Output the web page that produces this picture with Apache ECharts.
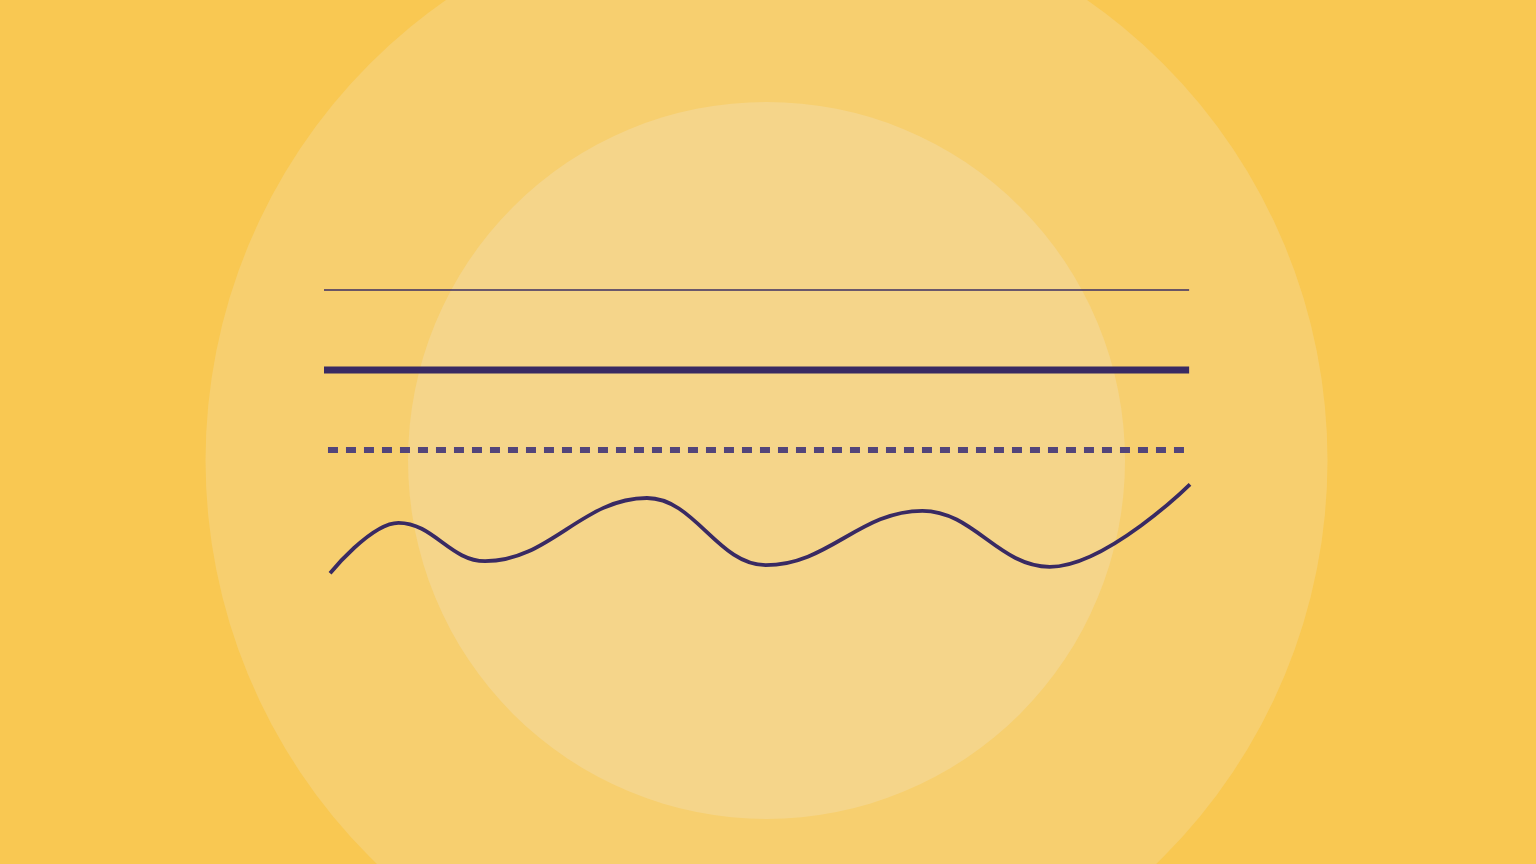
<!DOCTYPE html>
<html>
<head>
<meta charset="utf-8">
<script src="https://cdn.jsdelivr.net/npm/echarts@6/dist/echarts.min.js"></script>
<style>
    html, body { margin: 0; padding: 0; background: #f9c852; }
    #main { width: 1536px; height: 864px; }
</style>
</head>
<body>
<div id="main"></div>
<script>
    /* 数据 */
    const thinLine = [[0, 4], [99.9, 4]];
    const thickLine = [[0, 3], [99.9, 3]];
    const dashedLine = [[0.46, 2], [99.5, 2]];
    const waveX = [0.7, 8.6, 18.6, 37.3, 51.0, 69.1, 83.8, 100];
    const waveY = [0.46, 1.09, 0.61, 1.40, 0.56, 1.24, 0.54, 1.57];
    const circleCenter = [[51.1, 1.87]];

    let wave = []
    waveX.forEach((x, i) => wave.push([x, waveY[i]]))

    const chart = echarts.init(document.getElementById('main'));
    chart.setOption({
        animation: false,
        backgroundColor: '#f9c852',
        grid: {
            left: 324,
            right: 346,
            top: 290,
            bottom: 254
        },
        xAxis: {
            type: 'value',
            min: 0,
            max: 100,
            show: false
        },
        yAxis: {
            type: 'value',
            min: 0,
            max: 4,
            show: false
        },
        series: [
            {
                type: 'scatter',
                data: circleCenter,
                symbolSize: 1122,
                clip: false,
                silent: true,
                itemStyle: { color: '#f7cf6f', opacity: 1 }
            },
            {
                type: 'scatter',
                data: circleCenter,
                symbolSize: 717,
                clip: false,
                silent: true,
                itemStyle: { color: '#f5d58a', opacity: 1 }
            },
            {
                type: 'line',
                data: thinLine,
                symbol: 'none',
                clip: false,
                lineStyle: { color: '#3b2e62', width: 1.5, cap: 'butt' }
            },
            {
                type: 'line',
                data: thickLine,
                symbol: 'none',
                clip: false,
                lineStyle: { color: '#392a63', width: 7, cap: 'butt' }
            },
            {
                type: 'line',
                data: dashedLine,
                symbol: 'none',
                clip: false,
                lineStyle: { color: '#53457a', width: 6, type: [10, 8], cap: 'butt' }
            },
            {
                type: 'line',
                data: wave,
                symbol: 'none',
                smooth: 0.4,
                smoothMonotone: 'x',
                clip: false,
                lineStyle: { color: '#392a63', width: 3.8, cap: 'butt' }
            }
        ]
    });
</script>
</body>
</html>
